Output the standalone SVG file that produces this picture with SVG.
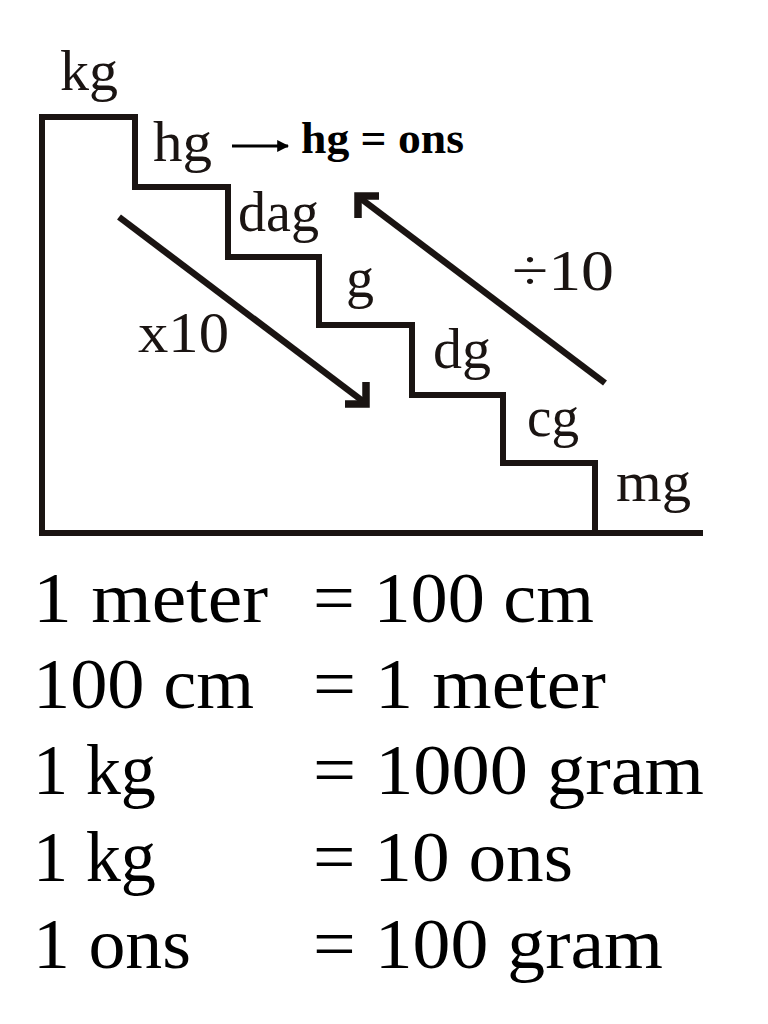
<svg xmlns="http://www.w3.org/2000/svg" width="768" height="1024" viewBox="0 0 768 1024">
<style>
.bg{fill:#ffffff}
.stair{fill:none;stroke:#1a1412;stroke-width:6;stroke-linejoin:miter}
.arr{fill:none;stroke:#1a1412;stroke-width:6.5;stroke-linecap:butt}
.head{fill:none;stroke:#1a1412;stroke-width:7.5;stroke-linejoin:miter;stroke-linecap:butt}
.lbl{font-family:"Liberation Serif","Times New Roman",serif;font-size:57px;fill:#1a1412}
.bold{font-family:"Liberation Serif","Times New Roman",serif;font-size:45px;font-weight:bold;fill:#000}
.eq{font-family:"Liberation Serif","Times New Roman",serif;font-size:71px;fill:#000}
</style>
<defs>
<marker id="tri" viewBox="0 0 10 10" refX="9" refY="5" markerWidth="4" markerHeight="4" orient="auto" markerUnits="strokeWidth">
<path d="M0,0 L10,5 L0,10 z" fill="#000"/>
</marker>
</defs>
<rect class="bg" x="0" y="0" width="768" height="1024"/>
<g id="staircase">
<path class="stair" d="M42,533 V117 H135 V187 H228 V257 H319 V325 H412 V395 H503 V463 H595 V533"/>
<path class="stair" d="M39,533 H703"/>
</g>
<g id="labels">
<g id="node-kg"><text class="lbl" x="60" y="90" textLength="58" lengthAdjust="spacingAndGlyphs">kg</text></g>
<g id="node-hg"><text class="lbl" x="153" y="161" textLength="59" lengthAdjust="spacingAndGlyphs">hg</text></g>
<g id="node-dag"><text class="lbl" x="238" y="231" textLength="81" lengthAdjust="spacingAndGlyphs">dag</text></g>
<g id="node-g"><text class="lbl" x="346" y="297" textLength="28" lengthAdjust="spacingAndGlyphs">g</text></g>
<g id="node-dg"><text class="lbl" x="433" y="368" textLength="58" lengthAdjust="spacingAndGlyphs">dg</text></g>
<g id="node-cg"><text class="lbl" x="527" y="436" textLength="52" lengthAdjust="spacingAndGlyphs">cg</text></g>
<g id="node-mg"><text class="lbl" x="616" y="501" textLength="75" lengthAdjust="spacingAndGlyphs">mg</text></g>
<g id="node-x10"><text class="lbl" x="138" y="352" textLength="91" lengthAdjust="spacingAndGlyphs">x10</text></g>
<g id="node-div10"><text class="lbl" x="512" y="290" textLength="102" lengthAdjust="spacingAndGlyphs">÷10</text></g>
<g id="node-hgons"><text class="bold" x="301" y="153" textLength="163" lengthAdjust="spacingAndGlyphs">hg = ons</text></g>
</g>
<g id="connectors">
<line x1="232" y1="146" x2="288" y2="146" stroke="#000" stroke-width="3" marker-end="url(#tri)"/>
<line class="arr" x1="119" y1="217" x2="364" y2="402"/>
<path class="head" d="M345,404 H366 V382"/>
<line class="arr" x1="605" y1="383" x2="360" y2="198"/>
<path class="head" d="M379,196 H358 V218"/>
</g>
<g id="equivalences">
<text class="eq" x="33" y="622" textLength="235" lengthAdjust="spacingAndGlyphs">1 meter</text>
<text class="eq" x="313" y="622" textLength="281" lengthAdjust="spacingAndGlyphs">= 100 cm</text>
<text class="eq" x="33" y="708" textLength="221" lengthAdjust="spacingAndGlyphs">100 cm</text>
<text class="eq" x="313" y="708" textLength="293" lengthAdjust="spacingAndGlyphs">= 1 meter</text>
<text class="eq" x="33" y="794" textLength="123" lengthAdjust="spacingAndGlyphs">1 kg</text>
<text class="eq" x="313" y="794" textLength="391" lengthAdjust="spacingAndGlyphs">= 1000 gram</text>
<text class="eq" x="33" y="881" textLength="123" lengthAdjust="spacingAndGlyphs">1 kg</text>
<text class="eq" x="313" y="881" textLength="260" lengthAdjust="spacingAndGlyphs">= 10 ons</text>
<text class="eq" x="33" y="968" textLength="158" lengthAdjust="spacingAndGlyphs">1 ons</text>
<text class="eq" x="313" y="968" textLength="350" lengthAdjust="spacingAndGlyphs">= 100 gram</text>
</g>
</svg>
